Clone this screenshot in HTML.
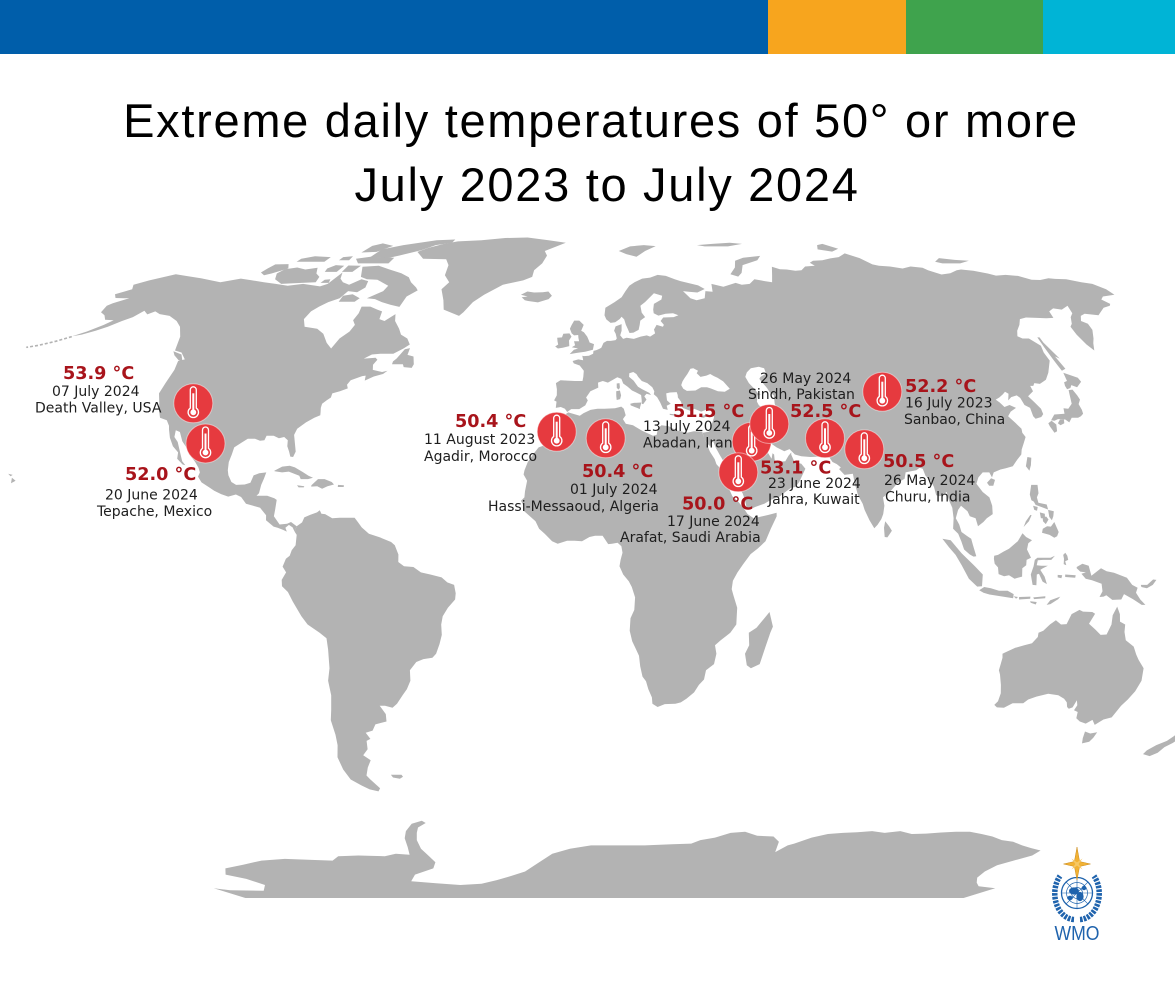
<!DOCTYPE html>
<html>
<head>
<meta charset="utf-8">
<style>
html,body{margin:0;padding:0;background:#fff;}
body{width:1175px;height:985px;overflow:hidden;}
svg{display:block;}
.t{font-family:"Liberation Sans",Arial,sans-serif;font-size:47px;letter-spacing:1.7px;fill:#000;}
.b{font-family:"DejaVu Sans",Verdana,sans-serif;font-weight:bold;font-size:17.6px;fill:#a8141b;}
.r{font-family:"DejaVu Sans",Verdana,sans-serif;font-size:14px;fill:#1e1e1e;}
</style>
</head>
<body>
<svg id="svg" width="1175" height="985" viewBox="0 0 1175 985" xmlns="http://www.w3.org/2000/svg">
<defs>
<g id="th">
<circle r="19.5" fill="#e63a3f" stroke="rgba(255,255,255,0.45)" stroke-width="1"/>
<path d="M-3,4.75 V-13.5 A3,3 0 0 1 3,-13.5 V4.75 A5.2,5.2 0 1 1 -3,4.75 Z" fill="none" stroke="#fff" stroke-width="1.3"/>
<rect x="-1" y="-10" width="2" height="17" fill="#fff"/>
<circle cx="0" cy="9" r="2.9" fill="#fff"/>
</g>
</defs>
<rect x="0" y="0" width="768" height="54" fill="#005eaa"/>
<rect x="768" y="0" width="138" height="54" fill="#f7a51e"/>
<rect x="906" y="0" width="137" height="54" fill="#3fa34d"/>
<rect x="1043" y="0" width="132" height="54" fill="#00b4d6"/>
<text class="t" x="601" y="137" text-anchor="middle">Extreme daily temperatures of 50° or more</text>
<text class="t" x="607" y="201" text-anchor="middle">July 2023 to July 2024</text>
<g id="land" fill="#b3b3b3"></g>
<g id="sea" fill="#ffffff"></g>
<path id="aleut" fill="none" stroke="#b3b3b3" stroke-width="1.6" stroke-dasharray="3 2"/>

<use href="#th" x="193.3" y="403.3"/>
<use href="#th" x="205.5" y="443.5"/>
<use href="#th" x="556.7" y="431.7"/>
<use href="#th" x="605.7" y="438.3"/>
<use href="#th" x="751.7" y="441.7"/>
<use href="#th" x="738.3" y="472.3"/>
<use href="#th" x="769.3" y="424"/>
<use href="#th" x="825" y="438.3"/>
<use href="#th" x="864.3" y="449.3"/>
<use href="#th" x="882.3" y="391.7"/>

<text class="b" x="63" y="379">53.9 °C</text>
<text class="r" x="52" y="396">07 July 2024</text>
<text class="r" x="35" y="412.5">Death Valley, USA</text>

<text class="b" x="125" y="480">52.0 °C</text>
<text class="r" x="105" y="499.5">20 June 2024</text>
<text class="r" x="97" y="516">Tepache, Mexico</text>

<text class="b" x="455" y="427">50.4 °C</text>
<text class="r" x="424" y="444">11 August 2023</text>
<text class="r" x="424" y="461">Agadir, Morocco</text>

<text class="b" x="582" y="477">50.4 °C</text>
<text class="r" x="570" y="494">01 July 2024</text>
<text class="r" x="488" y="511">Hassi-Messaoud, Algeria</text>

<text class="b" x="673" y="417">51.5 °C</text>
<text class="r" x="643" y="431">13 July 2024</text>
<text class="r" x="643" y="447.5">Abadan, Iran</text>

<text class="r" x="760" y="383">26 May 2024</text>
<text class="r" x="748" y="399">Sindh, Pakistan</text>
<text class="b" x="790" y="417">52.5 °C</text>

<text class="b" x="905" y="392">52.2 °C</text>
<text class="r" x="905" y="407.5">16 July 2023</text>
<text class="r" x="904" y="424">Sanbao, China</text>

<text class="b" x="760" y="473.5">53.1 °C</text>
<text class="r" x="768" y="488">23 June 2024</text>
<text class="r" x="768" y="504">Jahra, Kuwait</text>

<text class="b" x="682" y="509.5">50.0 °C</text>
<text class="r" x="667" y="526">17 June 2024</text>
<text class="r" x="620" y="542">Arafat, Saudi Arabia</text>

<text class="b" x="883" y="467">50.5 °C</text>
<text class="r" x="884" y="485">26 May 2024</text>
<text class="r" x="885" y="501.5">Churu, India</text>

<g transform="translate(1077,893)">
<path d="M-3,26.5 A20,26 0 0 1 -17,-17" fill="none" stroke="#1f63ad" stroke-width="5.5" stroke-dasharray="2.6 1.1"/>
<path d="M3,26.5 A20,26 0 0 0 17,-17" fill="none" stroke="#1f63ad" stroke-width="5.5" stroke-dasharray="2.6 1.1"/>
<circle r="15.5" fill="#fff" stroke="#1f63ad" stroke-width="1.3"/>
<circle r="10.5" fill="none" stroke="#1f63ad" stroke-width="0.7"/>
<circle r="5.5" fill="none" stroke="#1f63ad" stroke-width="0.7"/>
<path d="M-15.5,0H15.5M0,-15.5V15.5M-11,-11L11,11M11,-11L-11,11" stroke="#1f63ad" stroke-width="0.6"/>
<ellipse cx="-3" cy="-2" rx="5" ry="3.6" fill="#1f63ad"/>
<ellipse cx="3" cy="3.5" rx="3.6" ry="4.6" fill="#1f63ad"/>
<ellipse cx="-7" cy="5" rx="2.8" ry="2.2" fill="#1f63ad"/>
<ellipse cx="7" cy="-5" rx="2.4" ry="2.2" fill="#1f63ad"/>
<polygon points="0,-46 2.6,-31.5 13.5,-29 2.6,-26.5 0,-13 -2.6,-26.5 -13.5,-29 -2.6,-31.5" fill="#f2b233" stroke="#c98a1c" stroke-width="0.5"/>
<polygon points="5.5,-34.5 1.6,-29 5.5,-23.5 0,-27.4 -5.5,-23.5 -1.6,-29 -5.5,-34.5 0,-30.6" fill="#f7c865"/>
</g>
<text x="1077" y="940" text-anchor="middle" font-family="Liberation Sans, Arial, sans-serif" font-size="20" fill="#1f63ad" textLength="45" lengthAdjust="spacingAndGlyphs">WMO</text>
</svg>
<script>
(function(){
var XT=[1,.9986,.9954,.99,.9822,.973,.96,.9427,.9216,.8962,.8679,.835,.7986,.7597,.7186,.6732,.6213,.5722,.5322];
var YT=[0,.062,.124,.186,.248,.31,.372,.434,.4958,.5571,.6176,.6769,.7346,.7903,.8435,.8936,.9394,.9761,1];
function P(lo,la){var d=lo-5;if(d>180)d=180;if(d<-180)d=-180;var a=Math.min(90,Math.abs(la));var i=Math.min(17,Math.floor(a/5));var f=(a-5*i)/5;var X=XT[i]+(XT[i+1]-XT[i])*f,Y=YT[i]+(YT[i+1]-YT[i])*f;return (604.5+214.8*X*d*Math.PI/180).toFixed(1)+','+(562-(la<0?-1:1)*336*Y).toFixed(1);}
function pts(s){return s.trim().split(/\s+/).map(function(p){var q=p.split(',');return P(+q[0],+q[1]);});}
function path(s){return 'M'+pts(s).join('L')+'Z';}
var LAND=[
"-168,65.6 -164.5,67 -166.5,68.3 -163,69.5 -156.8,71.3 -152,70.8 -145,70.1 -141,69.6 -136,69 -130,70 -125,69.5 -120,69 -115,68.5 -110,68 -105,68.5 -98,67.8 -96,68.5 -94.5,71.8 -93,70 -91,69 -88,68.3 -85,69.8 -82,69.3 -81.3,67.5 -83,66.2 -86.5,66.5 -87.5,64.5 -90.5,63.5 -92.5,62.3 -94,61 -94.5,59 -92.5,57 -88,56.5 -85,55.2 -82.3,52.9 -80,51.5 -79,54 -77,55.8 -76.5,57.5 -78,58.7 -77.5,60.5 -78,62.3 -75,62.3 -72,61.5 -70,61 -69.5,59 -67.5,58.5 -65,60.3 -64,58.5 -61.5,56.5 -60,55 -57.5,54 -56,52.5 -57.5,51.5 -60,50.2 -64,50.2 -66.5,50 -68.5,49 -65,49.2 -64.2,48.7 -65,47.5 -64.5,46.2 -61.5,45.7 -60,46 -61,45.2 -63.5,44.6 -65.8,43.6 -66,44.8 -67,44.7 -70,43.7 -70.6,42.6 -70,41.7 -72,41 -74,40.5 -74,39.5 -75,38.8 -76,38 -76,37 -75.7,36 -75.5,35.2 -77,34.6 -79,33.5 -81,32 -81.4,30.5 -80.5,28 -80,26.5 -80.4,25.2 -81.2,25.3 -81.8,26.5 -82.6,27.8 -82.8,29.2 -84,30 -85.4,29.7 -87,30.3 -89,30.3 -89.3,29.2 -90.5,29.1 -92,29.6 -94,29.6 -95.5,28.6 -97.2,27.5 -97.4,25.8 -97.8,24 -97.7,22 -97.3,20.8 -96.2,19.2 -94.8,18.5 -92.5,18.6 -91,19 -90.4,20.8 -89,21.3 -87.1,21.5 -87.5,20 -88,18.5 -88.3,16.5 -88.9,15.9 -86,15.9 -84,15.3 -83.3,14.9 -83.5,12.5 -83.7,11 -82,9 -80,9.2 -79,9.6 -77.4,8.6 -77.9,7.3 -78.5,8.3 -79.5,8.9 -80.4,8.2 -80,7.3 -81,7.7 -82.5,8.2 -83.6,8.5 -85.7,10 -85.8,11.2 -87.6,13 -89.5,13.5 -91.5,14 -93,15.6 -94.5,16.2 -96.5,15.7 -98.5,16.3 -100.5,17.1 -102,17.9 -104.3,19.1 -105.5,20.5 -105.2,21.5 -105.8,22.6 -107,24 -109,25.8 -110.5,27.6 -112,29 -113.5,31.2 -114.8,31.6 -114.5,30 -113.2,28.8 -112,26.7 -110.6,24.2 -109.5,23.2 -110.3,23.4 -112.1,24.8 -112.3,26.3 -114.2,27.8 -115.7,29.8 -116.8,31.8 -117.2,32.7 -118.4,34 -120.6,34.6 -121.9,36.5 -122.5,37.7 -123.8,39.8 -124.3,40.5 -124.2,43 -124,46.2 -124.7,48.4 -123,48.8 -125.5,50.5 -128,51 -130,54.5 -133,57 -136,58.5 -140,59.8 -144,60.3 -146.5,61 -148,60.2 -150.5,61.2 -151.8,59.5 -154,58.5 -156.5,57 -159,56 -162,55 -164.5,54.6 -161.5,55.8 -158.5,57.5 -157,58.7 -160,58.8 -162,60 -164.5,60.8 -165.4,62.5 -164.5,63.2 -161,64.5 -163,64.5 -166,64.6",
"-77.4,8.6 -76,9.5 -75.5,10.7 -74,11.3 -72.2,11.9 -71.5,12.4 -71,11.6 -70,11.5 -68,10.5 -66,10.6 -64,10.6 -62,10.6 -61,9.5 -60,8.3 -58,6.8 -55,5.9 -52,4.8 -51,4 -50,1.8 -50,0 -48.5,-1 -46,-1.2 -44,-2.5 -41.5,-3 -38.5,-3.7 -37,-4.9 -35.2,-5.5 -34.8,-7.5 -35,-9 -37,-11 -38.5,-13 -39,-15 -39,-17.5 -39.8,-19.7 -40.9,-22 -42,-23 -44.5,-23.3 -46.5,-24 -48.5,-26 -48.7,-28.5 -50,-30.5 -51.5,-32 -53.5,-34 -55,-35 -57,-34.5 -58.5,-34.5 -57.3,-36.5 -57.6,-38.3 -61,-39 -62.3,-40.5 -64.5,-41 -63.7,-42.5 -65,-43 -65.5,-45 -67.5,-46.5 -65.8,-47.7 -67.5,-49.5 -69,-51.5 -68.4,-52.4 -66.5,-54.7 -67.5,-55.5 -70,-55 -72,-54 -74.5,-52.5 -75.3,-50 -75.5,-47 -74,-44 -73.5,-41.5 -73.5,-38 -72.5,-35.5 -71.5,-32 -71.5,-28.5 -70.5,-25.5 -70.2,-21 -70.3,-18.3 -72,-17 -75,-15 -76.5,-13 -78.5,-9.5 -79.7,-7.2 -81.2,-5.8 -81.2,-4.3 -80,-2.5 -80.9,-1.1 -80,0.8 -79,1.5 -78.5,2.8 -77.5,4 -77.3,6.5 -77.9,7.3",
"32.5,30 32.3,31.3 30,31.4 28,31 25,31.6 23,32.6 21,32.8 20,32.1 19.5,30.5 18.5,30.3 15.5,31.5 13,32.8 11,33.2 10.2,34.3 11,35.2 10.5,36.8 9.8,37.3 8,36.9 5,36.8 3,36.8 1,36.5 -1,35.7 -2,35.1 -5.3,35.9 -6,35.5 -6.8,34 -9.3,32.5 -9.8,30.5 -9.6,29 -11.5,28 -13.2,27.5 -14.5,26 -16,24 -16.8,22 -17,21 -16,19.5 -16.5,17 -16.6,15.5 -17.5,14.7 -16.8,13.5 -16.7,12.3 -15,11 -13.5,9.8 -12.5,8 -11,6.8 -9,5 -7.5,4.4 -5,5.1 -3,5.1 -1,5 1,6 2.5,6.3 4.5,6.3 6,4.3 7,4.4 8.5,4.6 9.5,3.8 9.8,2.2 9.3,0.5 9,-1 10,-3 11.5,-4.6 12.3,-6 13.2,-8.5 13,-11.5 12,-13.5 11.8,-16.5 12.5,-19 14.4,-22.5 14.8,-25 15.5,-27.5 16.5,-28.6 17.2,-30.5 18.3,-32.5 18.5,-34 20,-34.8 22,-34.1 25,-34 26.5,-33.7 28,-32.8 30,-31.3 31.2,-29.5 32.5,-28.2 32.9,-26 35,-24.5 35.5,-22 35,-20 36.5,-18.8 39,-17 40.5,-15 40.6,-11 39.5,-8 39,-6.5 39.3,-4.5 40.5,-2.5 42,-0.5 44,1.9 46,3.3 48,5 49.5,8 51.2,11 51.2,11.8 49,11.3 45,10.5 43.4,11.5 42.5,12.8 41,14.5 39.5,15.8 38.5,18 37.3,20.8 37,22 35.6,23.5 35.2,24.7 34,26.5 33.5,27.8 32.7,29.8",
"32.5,30 33.2,28.6 34.2,27.8 34.6,28.6 34.9,29.5 35.7,27.4 36.6,25.8 37.5,24.3 38.6,22.8 39.2,21.5 40,20 41,18.5 42.3,16.5 42.8,15 43.3,12.7 44.5,12.8 45.5,13.2 48,14 50,15 52.2,15.7 54,16.9 55.5,17.8 56.7,18 57.8,19.2 58.6,20.5 59.8,22.4 58.8,23.6 57,24 56.3,25.8 56.4,26.3 55.5,25.5 54.5,24.2 52,24 51.6,24.6 51.6,25.8 51.2,26.1 50.8,24.8 50.2,25.8 49.5,27 48.5,28 48,29.3 48.5,30 49.5,30.1 50.3,29.3 51,28.5 52.5,27.5 54.5,26.6 56,27.1 57.3,25.8 59,25.4 61.5,25.2 64,25.3 66.5,25.4 67.4,24 68.5,23.5 69.5,22.7 69,22.3 70.3,20.9 72.6,21.2 72.8,19 73.4,16 74.5,14 74.9,12.5 76,10 77.2,8.1 78.1,8.9 79.2,10.3 79.8,11.5 80.3,13.5 80.1,15.5 81.3,16.3 82.3,17 84.5,19 86.5,20 87,21.5 88.5,21.8 90,22 91,22.6 91.8,22.4 92.3,20.7 93.5,19.5 94.2,18 94.5,16 95.5,15.8 97.5,16.8 97.7,15 98.5,13 98.6,10.5 98.3,8 99.6,6.8 100.3,5 101,3 102.5,1.8 103.5,1.3 104.2,1.4 103.4,4 103,5.6 102,6.2 100.5,7.2 100,9 99.2,10.5 100,12.5 100.9,13.5 102.5,12.2 103,11 104.5,10.5 105,8.6 106.5,9.6 107.5,10.5 109.2,11.5 109.3,13.5 108.8,15.5 107.2,16.8 105.8,18.8 106.6,20.3 108,21.5 109.8,21.5 110.3,20.3 111,21.5 113,22.2 114.5,22.5 116.5,23 118,24.5 119.5,25.8 120,27 121,28.5 122,30 121.5,31 121.7,32 120.5,33.5 119.2,35 120.5,36.1 122.5,37 121,37.7 119.3,37.2 118.5,38.3 117.7,39 119,39.5 120.5,40.3 121.5,40.9 122.2,40.4 121.2,38.8 122.5,39.6 124.3,40 125,39.4 125.3,37.7 126.5,37 126.3,35 126.7,34.4 128.5,34.8 129.4,35.5 129.5,36.8 128.5,38.4 127.5,39.8 129.7,41 129.8,42.3 130.7,42.3 131.5,43 133,42.8 135.5,43.8 137.5,45.5 139,47 140.5,48.5 140.5,50.5 141.4,52.2 139.5,54 137.5,54 136.5,54.6 138,56 140.5,57.5 142.5,59 145,59.4 148.5,59.3 151.5,59.2 154,59.3 155,61 157.5,61.8 160,61.5 163.5,62.5 162,60.5 160,59.5 158,57.8 156.5,57 155.8,55 156,52.5 156.7,51 158.5,52.8 160,54 162.5,56.2 163.3,57.8 162,58.5 163.8,59.8 166,60.4 170,60 172.5,61 175,62 178,62.5 179,63 178,64.2 180,65 185,65.5 190,66 187,67 183,68.5 180,69 176,69.8 172,69.9 170,70.1 166,69.6 163,69.7 160,70.8 156,71.1 152,70.9 150,71.5 146,72.3 142,72.7 140,72.5 136,71.6 132,71.2 129,72.5 128,73.2 124,73.6 120,73 116,73.6 112,73.8 110,74.2 108,76.2 104.3,77.7 100,76.5 96,76.1 92,75.5 88,75.3 86,74.7 87,73.8 83,73.6 80.5,72.5 78,72.3 75,72.7 72.5,72.8 70,73.5 68,71 66.5,69 64,69.3 60.5,69.8 58,68.5 55,68.3 53,68.8 48,67.7 44,68.5 43.5,66.3 41,66.5 40,64.5 37,64 35,64.5 33,66.5 35,66.3 38,66.1 41,67.1 39,68.1 33,69.3 31,69.8 28,70.8 25,71.1 22,70.3 19,70 16,69 14,68 12.5,66.5 11,64.8 8.5,63.5 5.3,62 5,60 5.6,58.9 7,58 8.5,58.2 10,59 10.7,59.6 11.5,58.9 12,57.5 12.5,56.5 13,55.4 14.3,55.5 16,56.2 16.5,57.5 16.8,58.6 18.5,59.5 17.5,60.7 17.3,62.5 19,63.5 21.5,65.2 22.5,65.9 25.3,65.2 24.8,64.2 22,63 21.5,61.5 21.5,60.5 23,59.9 25.5,60.4 28,60.5 29.7,60 28,59.5 24.5,59.4 23.5,58.5 24.4,57.5 24,57 22,57.5 21,56.3 21.2,55.3 19.5,54.5 18.5,54.8 16.5,54.5 14.3,53.9 12,54.2 10.9,53.9 10,54.8 10.5,56 10.6,57.7 8.6,57.1 8.1,56 8.6,55.2 8.9,54 8.5,53.6 7,53.4 5.8,53.4 4.7,52.9 4,51.7 3.4,51.4 2.5,51.1 1.6,50.9 1.5,50.2 0.2,49.7 -1.3,49.6 -1.8,49.7 -1.5,48.6 -3,48.8 -4.7,48.4 -4.3,47.8 -2.5,47.3 -1.2,46 -1.3,44.5 -1.5,43.5 -3.8,43.5 -6,43.6 -8,43.7 -9.3,43 -8.9,41.5 -8.8,40 -9.5,38.8 -8.8,38.5 -8.9,37 -7.5,37.2 -6.3,36.8 -5.6,36 -4.5,36.7 -2.2,36.7 -0.5,37.6 0.2,38.8 -0.3,39.5 0.9,41 3.2,41.9 3.1,43.1 4.5,43.5 6,43.1 7.5,43.8 8.8,44.4 10,44 10.5,42.9 11.8,42.1 13,41.2 14,40.8 15.6,40.1 15.7,38.9 15.7,38 16.1,37.9 17.1,39 16.5,39.8 17.2,40.4 18.5,40.1 18,40.6 16,41.5 14.8,42.1 13.6,43.6 12.3,44.5 12.4,45.4 13.6,45.7 14.5,45.2 15,44.5 16,43.5 17.6,43 19,42 19.5,41 19.3,40.3 20.2,39.6 21,38.3 21.7,36.8 23,36.5 22.8,37.5 24,38 23,38.8 22.9,40.5 24,40.7 26,40.8 26.2,40.1 26.2,39.5 27,38.5 27.3,37 28.2,36.7 29.7,36.2 30.6,36.8 32.5,36.1 34.5,36.7 36,36.7 36.1,35.8 35.9,34.6 35.5,33.8 35.1,33 34.6,31.8 34.2,31.3 33,31.1 32.4,31",
"-73,78.2 -68,76 -58.5,75.8 -56,74 -55,71 -52,69 -53.5,67 -51,64 -49.5,61.5 -43.5,59.8 -42.5,60.8 -40.5,63.5 -37.5,65.5 -32,68.3 -25,69.5 -22,70.5 -22,72.5 -19.5,74.5 -18.5,77 -20,78.5 -12,81.5 -20,82.5 -30,83.6 -40,83.4 -50,82.5 -60,82 -65,81 -70,79.5",
"-61.8,66.7 -64.5,65 -65,62.2 -68.5,62.8 -72,63.5 -75,64.3 -78,64.5 -74,66.5 -73.5,68 -79,69.7 -83,69.8 -86,70.5 -89,73.5 -83,73.8 -78,72.8 -72,71.6 -68,70.4 -66,69 -63,67.5",
"-119,71.5 -117,69.8 -113,68.5 -106,68.8 -101,69 -101.5,70.5 -104,71.5 -106,73.2 -110,72.7 -114,73.3 -118,72.8",
"-125.5,71.8 -123,71 -121,71.5 -117,73 -119,74.3 -124,74.2 -125,73",
"-90,76.5 -89,79 -82,80.5 -70,82.5 -62,82.8 -62,81.5 -68,80.5 -72,78.8 -75,78 -79,77 -82,76.3",
"-92,74.5 -80,74.5 -80,76.3 -90,76.6 -95,76",
"-96,78 -90,78.2 -86,80.2 -92,81.2 -95,80.2",
"-117,75 -106,75 -106,76.5 -113,76.8 -117,76",
"-101,75.5 -97,75.5 -97.5,76.8 -101,76.5",
"-101.5,72 -97,72 -96.5,73.8 -100,74 -102,73",
"-95,72 -91,72 -90,73.8 -95,73.9",
"-87,63.6 -81.5,63.6 -80.5,64.5 -84,65.6 -87,65.2",
"-99,68.8 -96,68.8 -96.5,69.8 -98.5,69.7",
"-22.7,64 -21.5,63.8 -18,63.4 -14.5,64.3 -13.5,65.2 -15,66.4 -17,66.2 -20,66.1 -22.5,66.4 -24.5,65.5 -22,65 -24,64.8",
"-59.3,47.6 -56,47.6 -55.5,46.9 -53,46.7 -52.7,47.6 -53.5,49.5 -55.5,49.9 -55.5,51.6 -57,51.3 -57.8,50 -58.5,49 -59.3,48.3",
"-85,21.9 -83,22.9 -81,23.1 -79.5,22.7 -77.2,21.6 -75.5,20.7 -74.2,20.2 -75.5,19.9 -77.5,19.9 -78,20.7 -81,21.7 -82.8,21.5 -84.9,21.8",
"-74.4,18.4 -72.8,19.9 -71,19.9 -69,19.2 -68.3,18.6 -70,18.2 -71.4,17.6 -72.8,18.2 -74.4,18.1",
"-67.2,18.5 -65.6,18.4 -65.6,18 -67.2,18",
"-78.3,18.4 -76.3,18.2 -76.4,17.9 -77.8,17.9",
"-128.3,50.8 -125,50 -123.4,48.4 -124.7,48.6 -127,49.8",
"-156,20.2 -154.8,19.5 -155.9,18.9",
"-157.3,21.2 -156,20.9 -156.5,20.6",
"-61.3,-51.3 -58,-51.3 -57.8,-51.8 -59,-52.3 -61,-52",
"-5.7,50.1 -3.5,50.4 -1,50.7 1.4,51.2 1.7,52.6 0.3,53 0,53.6 -0.5,54.5 -1.6,55.6 -2.5,56 -1.8,57.5 -3.3,58.6 -5,58.6 -5.7,57.5 -6.2,56.5 -5.5,55.3 -4.7,54.8 -3.4,54.9 -3.3,54.2 -3,53.3 -4.6,53.3 -4.2,52.3 -5.2,51.8 -3.2,51.5 -4.5,51.2",
"-6,52.1 -6.2,53.5 -5.5,54.5 -6.2,55.3 -8.2,55.2 -8.5,54.3 -10,54.2 -9.8,53.3 -9.5,52.5 -10.4,52 -9.5,51.5 -8,51.7",
"12.4,38 13.4,38.2 15.6,38.3 15.1,37 15.1,36.7 14.3,37 12.5,37.6",
"8.4,41 9.5,41.2 9.8,40 9.5,39.1 8.5,38.9 8.4,39.8",
"8.6,42.9 9.4,43 9.5,42 9.2,41.4 8.6,41.8",
"23.5,35.6 26.3,35.3 26,35 24.2,35.2 23.5,35.3",
"32.3,35 34.6,35.6 34,35 33,34.6 32.3,34.7",
"11,78.5 16,80 22,80.5 27,80.1 22,78.5 18,76.6 14,77.5",
"52.5,71.3 55.5,73.3 57,75.3 61,76.3 68.5,76.9 66,75.5 59,74 57,71.7 55,70.6",
"45,80.5 52,81 60,81.5 65,81 58,80 48,80",
"95,79 97,80.5 100,81 104,79.2 100,78.3",
"136,75 140,76.2 145,75.6 150,75.3 145,74.5 138,74.5",
"142,46 143.5,46.5 143,49.5 144,49 143,53 143.2,54.3 142.5,54.3 142,51.8 141.8,49 141.9,47",
"140,41.5 141.2,41.8 142,42.5 143.3,42 145.5,43.3 145.3,44.3 142,45.5 141.5,43.5 140.4,43.2 140,42.3",
"130.9,34 132.5,35.4 135.5,35.6 136,36.9 137.3,36.8 139,38 139.9,40.5 140.3,41.3 141.5,41.4 141.8,40 142,39 140.9,37.9 141,36.5 140.8,35.6 139.8,35 138.8,34.6 137,34.6 135.8,33.5 135,34.2 133,34.3 131.8,33.9",
"129.8,33.3 131,33.9 131.9,33 131.4,31.4 130.5,31 129.9,32.6",
"132.5,33.3 133.5,34.2 134.6,34.2 134.3,33.3 133,32.8",
"120.1,23 121,25.2 122,25 121.5,23.2 120.8,21.9",
"108.7,19 110,20.1 111,19.7 110.3,18.3 109.2,18.3",
"79.9,6 80.6,5.9 81.9,7.5 81.2,8.6 80.2,9.8 79.8,8.2",
"119.8,16.2 120.6,18.5 122.3,18.5 122.2,16.5 121.6,15.5 121.8,14.2 124,13.8 124.2,12.6 123,13 121,13.7 120.6,14.5 120,14.8",
"122,7 122.3,8 123.5,8.6 124.5,8.5 125.5,9.6 126.5,7.2 126,6.2 125.2,5.8 124,6.5",
"124.2,12.5 125.7,12.2 125.4,11 124.9,10 124.3,10.8",
"121.9,11.9 123.2,11.6 123.1,10.5 122,10.5",
"122.5,10.8 123.5,10.9 124,10.2 123.2,9.1 122.5,9.8",
"117.2,8.4 118.7,9.8 119.6,11.2 119.3,11.3 117.9,9.8",
"120.3,13.5 121.5,13.2 121.2,12.3 120.5,12.5",
"95.3,5.6 97.5,5.2 100.3,2.1 103.7,-0.9 106,-3 105.9,-5.8 104.6,-5.9 102.3,-4 100.3,-0.8 98.7,1.7 97,3.5",
"105.2,-6.8 106.5,-6 108.3,-6.3 110.5,-6.9 112.8,-6.9 114.5,-7.7 114.4,-8.7 111,-8.2 108,-7.8 106.4,-7.4",
"109,1.5 110,1.7 111.5,2.5 113,3.2 115.4,5 116.8,6.9 117.7,6 119.2,5.2 118.2,4.5 117.8,3 118.8,1 117.6,0.5 117.5,-0.8 116.5,-1.5 116.5,-3.5 114.5,-4 113,-3.2 111.7,-3.4 110.2,-2.9 110,-1.3 109.1,-0.4 108.9,0.8",
"119.4,-5.5 118.8,-3 119.5,-1 119.8,0.5 120.5,1 122,1 124,1 125.2,1.5 124.2,0.5 122,0.5 120.6,0.4 120.3,-0.8 121.5,-0.9 123.3,-0.9 122,-1.5 121.3,-1.9 122.5,-3.5 123.2,-5.3 122,-4.7 121,-2.8 120.4,-3 120.4,-5.6",
"114.5,-8.2 115.7,-8.4 115.2,-8.8",
"116,-8.4 119,-8.3 119,-8.8 116,-9",
"119.8,-8.5 123,-8.2 123,-8.7 120,-8.9",
"123.5,-10.3 124.4,-9.2 127,-8.3 126.5,-8.9 124.5,-10.1",
"119,-9.4 120.8,-9.6 120.6,-10.2 119.2,-9.8",
"127.4,1.7 128,2.2 128.5,1.5 128.7,0.5 127.9,0.2 128.2,-0.8 127.5,-0.5 127.6,0.8",
"128,-3 130.8,-3.2 130.7,-3.8 128,-3.6",
"126,-3.1 127.2,-3.2 127,-3.9 126,-3.7",
"131,-1.2 132.5,-0.4 134.2,-0.9 135,-3.3 137.5,-1.5 139,-2.2 141,-2.6 144.5,-3.8 146,-5.5 147.5,-6.2 147.2,-7.4 148.5,-9 150,-10.3 149,-10.3 146.5,-8.9 144,-7.7 143.4,-9 141,-9.1 139.3,-8 138.6,-8.3 137.5,-8.4 138.2,-7 137.8,-5.2 135.2,-4.4 133.5,-4 132.3,-2.8 133.5,-2.5 132,-2.3 131,-1.5",
"148.3,-5.5 150,-5.5 151.5,-4.2 152.4,-4.3 151.5,-5.5 150,-6.3 148.5,-6",
"113.5,-22 114,-21.8 116.7,-20.6 119,-20 121,-19.5 122.3,-18 122.3,-17 123.5,-16.5 125,-15 126.5,-14 128,-15 129.5,-14.9 130.5,-12.5 132.5,-11.5 133.5,-11.9 136,-12 136.8,-12.4 135.5,-14.8 137.5,-16.2 139.2,-17.5 140.8,-17.4 141.6,-15 141.6,-12.8 142.5,-10.7 143.5,-12.5 143.8,-14.3 145.3,-15 145.5,-16.8 146.3,-18.8 148.8,-20.3 150,-22.2 151,-23.5 153,-25.5 153.6,-28.5 153,-31 152,-33 150.9,-34.5 150,-37.3 148,-37.8 146.3,-39.1 144.9,-37.9 143.5,-38.8 141.5,-38.3 140,-37.5 139.5,-36 138.2,-35.6 138.5,-34.4 137.8,-33.2 137.4,-34.9 136.5,-35.2 135.8,-34.8 135.2,-33.7 134,-32.8 132,-32 129,-31.6 126,-32.3 124,-33 123,-33.9 120,-33.9 118,-35 116,-34.9 115,-34.3 115.7,-33.4 115.7,-31.5 115,-29.5 114,-27 113.4,-26 113.5,-24.5 113.7,-23",
"144.6,-40.7 146.5,-41.2 148.3,-40.9 148.2,-42.2 147.8,-43.2 146,-43.6 145.2,-42.3",
"172.7,-34.4 174.3,-35.3 175.5,-36.8 178.5,-37.7 177.9,-39.2 176.8,-40 175.3,-41.6 174.6,-41.3 175,-39.9 173.8,-39.3 174.6,-38 174.3,-36.5 173,-35.2",
"172.6,-40.5 174.3,-41.3 173.9,-42.2 172.7,-43.5 171.2,-44.5 170.6,-45.9 169,-46.7 166.5,-46.2 166.7,-45.3 168.3,-44 170.5,-43 171.5,-41.8 172.1,-40.8",
"49.3,-12 50.4,-15.5 49.8,-17 48.7,-20.5 47.5,-24.5 45.2,-25.5 44,-24.8 43.3,-22 44.3,-20 44,-17 46,-15.8 48,-13.5",
"-180,-90 -180,-84.3 -170,-85.2 -155,-85.5 -148,-83 -150,-80.5 -155,-79 -150,-77 -140,-75.8 -130,-74.5 -120,-74 -110,-74.3 -102,-74.5 -98,-73.2 -90,-73 -80,-73.2 -75,-72.5 -70,-72.8 -68.5,-70.5 -67.5,-68 -65.5,-66 -62,-64 -58,-63.2 -57,-63.8 -60.5,-65 -62,-66.5 -63.5,-68.5 -64,-71 -63,-73 -62,-75 -65,-77 -75,-79 -80,-81.5 -70,-82.3 -60,-83 -50,-82.5 -42,-81 -35,-79.5 -28,-78 -22,-75.5 -15,-72.5 -8,-71 0,-70 10,-70 20,-70 30,-69.7 37,-69.5 40,-68.5 45,-67.8 50,-66.5 55,-66.2 60,-67.3 66,-67.5 69,-69 70,-72 73,-70 75,-69.5 80,-67.8 85,-66.8 90,-66.5 95,-66.3 100,-66 105,-66.5 110,-66 115,-66.8 120,-66.7 125,-66.4 130,-66.2 135,-66.2 140,-66.8 145,-67.5 150,-68.5 155,-69 160,-70 165,-70.8 170,-71.5 170,-73 166,-74.5 163,-76 163,-78 165,-80 170,-82 175,-83.5 185,-84.3 185,-90"
];
var SEA=[
"27.5,42.5 28,43.4 28.7,44.2 29.7,45.2 30.8,46.5 31.7,46.6 33,46 32.5,45.4 33.5,44.5 35.3,44.8 36.5,45.2 37.5,44.7 38.5,44.3 40,43.4 41.6,41.6 40,40.9 38,41 36,41.7 35,42 33.3,42 31.5,41.2 29,41.1 28,41.6",
"46.8,44.5 47.5,45.6 49,46.6 51.5,47 53,46.6 53.2,45.3 51.3,44.5 50.8,44 52.5,41.8 53,40.8 54,40 53.8,38 54,37.3 51,36.7 49.2,37.6 48.8,38.5 49.3,40 50.3,40.3 49.5,40.6 48.6,41.8 47.5,43"
];
var NS='http://www.w3.org/2000/svg';
var land=document.getElementById('land'),sea=document.getElementById('sea');
LAND.forEach(function(s){var p=document.createElementNS(NS,'path');p.setAttribute('d',path(s));land.appendChild(p);});
SEA.forEach(function(s){var p=document.createElementNS(NS,'path');p.setAttribute('d',path(s));sea.appendChild(p);});
document.getElementById('aleut').setAttribute('d','M'+pts("-164.5,54.5 -168,53.3 -172,52.3 -176,51.8 -179.5,51.7").join('L'));
})();
</script>
</body>
</html>
